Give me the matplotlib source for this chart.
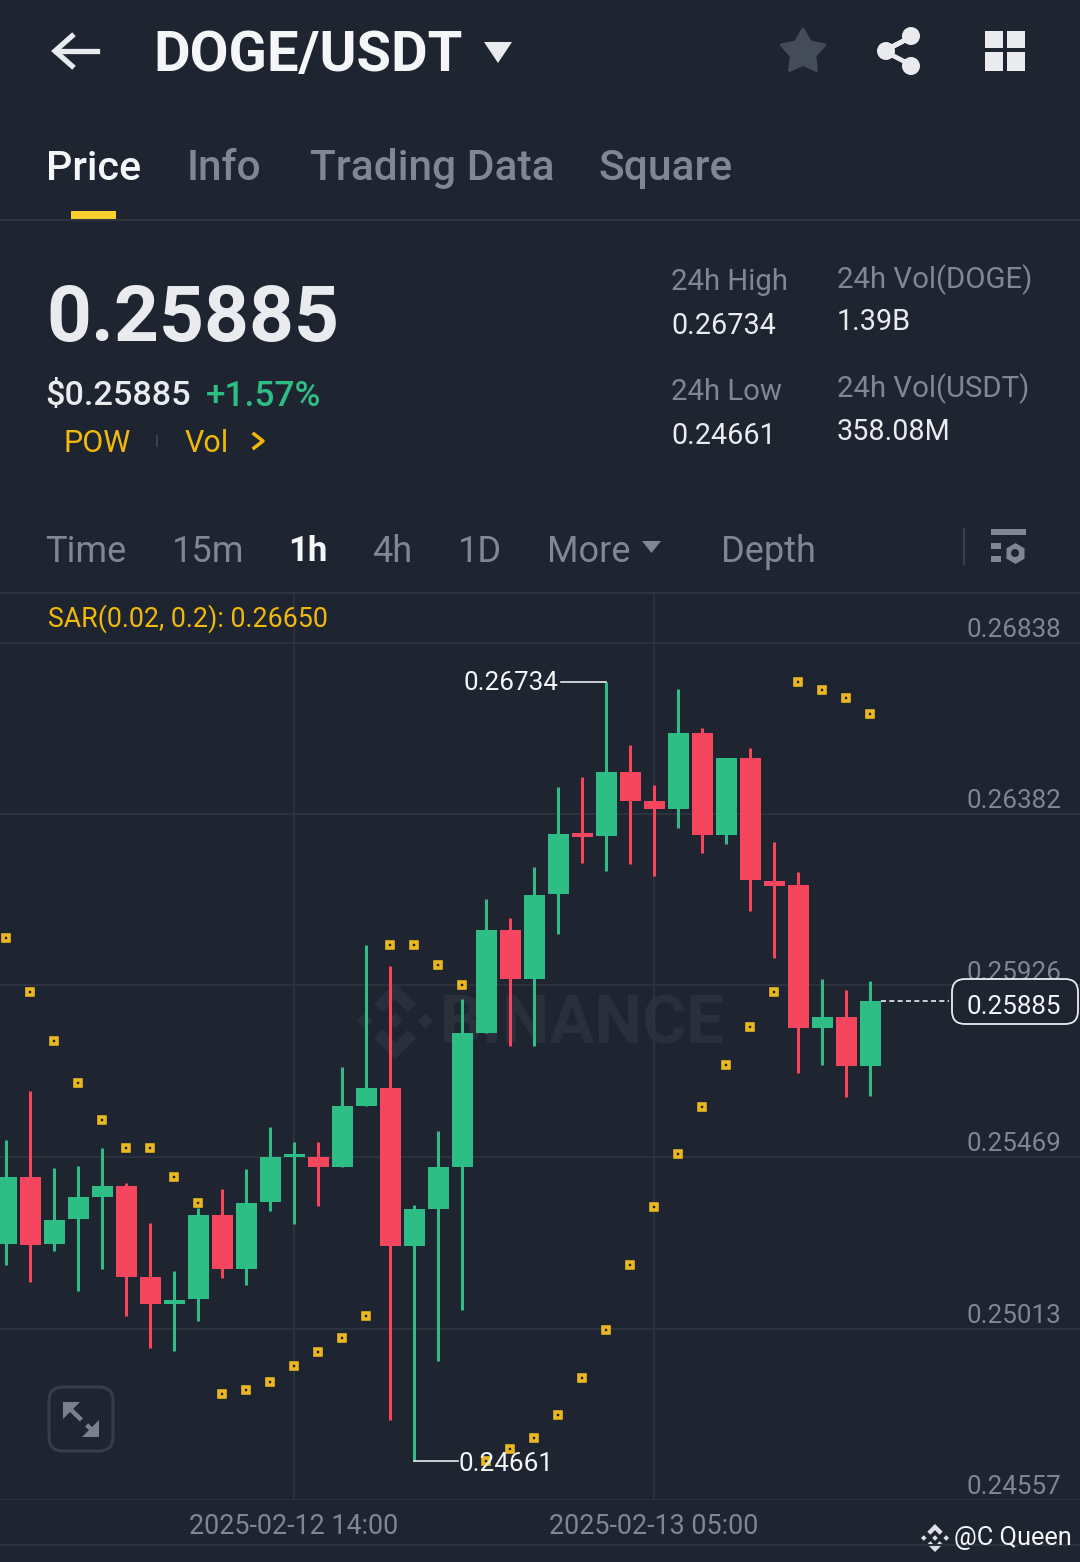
import matplotlib
matplotlib.use('Agg')
import matplotlib.pyplot as plt
import numpy as np
from matplotlib.patches import Polygon, Rectangle, Circle, FancyBboxPatch

plt.rcParams['font.family'] = ['Roboto', 'DejaVu Sans']

# candles
opens = [.25238, .25415, .25238, .25305, .25364, .25392, .25150, .25078, .25092, .25315,
         .25172, .25350, .25470, .25470, .25443, .25605, .25654, .25234, .25330, .25443,
         .25799, .26073, .25943, .26169, .26332, .26324, .26494, .26417, .26396, .26598,
         .26326, .26531, .26205, .26193, .25814, .25843, .25712]
closes = [.25415, .25235, .25303, .25363, .25392, .25150, .25078, .25090, .25315, .25172,
          .25347, .25470, .25477, .25443, .25605, .25654, .25234, .25330, .25443, .25799,
          .26073, .25943, .26167, .26330, .26322, .26494, .26417, .26396, .26598, .26326,
          .26531, .26206, .26191, .25814, .25843, .25712, .25885]
highs = [.25515, .25645, .25440, .25446, .25493, .25400, .25295, .25166, .25334, .25384,
         .25438, .25549, .25509, .25509, .25710, .26034, .25978, .25343, .25539, .25891,
         .26156, .26106, .26241, .26455, .26480, .26734, .26566, .26459, .26715, .26611,
         .26531, .26558, .26308, .26228, .25944, .25915, .25939]
lows = [.25182, .25138, .25219, .25113, .25172, .25047, .24961, .24953, .25034, .25148,
        .25129, .25326, .25291, .25339, .25443, .25605, .24770, .24661, .24927, .25062,
        .25799, .25766, .25765, .26063, .26252, .26231, .26249, .26218, .26346, .26279,
        .26302, .26124, .25999, .25693, .25714, .25630, .25632]
sar = [.26052, .25908, .25778, .25666, .25568, .25493, .25493, .25416, .25346, .24839,
       .24850, .24872, .24913, .24952, .24988, .25047, .26034, .26034, .25979, .25927,
       .24661, .24693, .24722, .24783, .24882, .25009, .25182, .25337, .25477, .25603,
       .25714, .25816, .25908, .26733, .26712, .26691, .26648]

price_ticks = [0.26838, 0.26382, 0.25926, 0.25469, 0.25013, 0.24557]
date_ticks = [12, 27]
date_labels = ['2025-02-12 14:00', '2025-02-13 05:00']
last_price = 0.25885
high_price = 0.26734
low_price = 0.24661

tabs = ['Price', 'Info', 'Trading Data', 'Square']
periods = ['Time', '15m', '1h', '4h', '1D', 'More', 'Depth']

BG = '#1e2430'
GRID = '#2e343f'
GREY = '#7f8795'
LIGHT = '#e9ebef'
WHITE = '#f5f6f8'
GREEN = '#2ebd85'
RED = '#f6465d'
YELLOW = '#f0b90b'
WATERMARK = '#2a303b'

fig = plt.figure(figsize=(10.8, 15.62), dpi=100, facecolor=BG)


def pixel_axes(z):
    a = fig.add_axes([0, 0, 1, 1], facecolor='none')
    a.set_xlim(0, 1080)
    a.set_ylim(1562, 0)
    a.axis('off')
    a.set_zorder(z)
    return a


def binance_logo(a, cx, cy, r, color):
    # centre + side diamonds and the two chevrons
    d = r * 0.2
    for ox in [0, -r * 0.8, r * 0.8]:
        a.add_patch(Polygon([(cx + ox - d, cy), (cx + ox, cy - d), (cx + ox + d, cy), (cx + ox, cy + d)],
                            color=color, lw=0))
    for sg in [-1, 1]:
        a.add_patch(Polygon([(cx, cy + sg * r), (cx + r * 0.55, cy + sg * r * 0.45),
                             (cx + r * 0.33, cy + sg * r * 0.23), (cx, cy + sg * r * 0.56),
                             (cx - r * 0.33, cy + sg * r * 0.23), (cx - r * 0.55, cy + sg * r * 0.45)],
                            color=color, lw=0))


# watermark goes under the candles
wm = pixel_axes(0)
binance_logo(wm, 395, 1021, 38, WATERMARK)
wm.text(440, 1026, 'BINANCE', color=WATERMARK, fontsize=48.5, fontweight='bold', va='center')

# chart area, py 593 to 1500
ax = fig.add_axes([0, 62 / 1562, 1, 907 / 1562], facecolor='none')
ax.set_zorder(1)
ax.set_xlim(-0.25, 44.75)
ax.set_ylim(0.24557, 0.26970)
for s in ax.spines.values():
    s.set_visible(False)
ax.set_yticks(price_ticks)
ax.set_yticklabels([])
ax.set_xticks(date_ticks)
ax.set_xticklabels(date_labels, color=GREY, fontsize=19.4)
ax.tick_params(length=0, pad=9)
ax.grid(True, color=GRID, lw=1.3)
ax.set_axisbelow(True)

x = np.arange(len(opens))
colors = [GREEN if c >= o else RED for o, c in zip(opens, closes)]
ax.vlines(x, lows, highs, colors=colors, lw=2.2, zorder=3)
bottoms = np.minimum(opens, closes)
heights = np.abs(np.array(closes) - np.array(opens))
ax.bar(x, heights, bottom=bottoms, width=0.875, color=colors, zorder=4)

ax.plot(x, sar, ls='none', marker='s', ms=4.5, mew=2.6, mec='#eab91f', mfc='#1e2125', zorder=5)

for v in price_ticks:
    ax.text(43.96, v + 0.00002, '%.5f' % v, ha='right', va='bottom', color=GREY, fontsize=18.7)

# high / low callouts
ax.plot([23.13, 25], [high_price, high_price], color=LIGHT, lw=1.2, zorder=6)
ax.text(23.0, high_price - 0.00004, '%.5f' % high_price, ha='right', va='center', color=WHITE, fontsize=18.7, zorder=7)
ax.plot([17, 18.83], [low_price, low_price], color=LIGHT, lw=1.2, zorder=6)
ax.text(18.85, low_price - 0.00007, '%.5f' % low_price, ha='left', va='center', color=WHITE, fontsize=18.7, zorder=7)
ax.plot([36.45, 39.3], [last_price, last_price], color=LIGHT, lw=1.2, ls=(0, (3, 2)), zorder=6)

# overlay in pixel coords for the app chrome
ui = pixel_axes(2)


def label(px, py, s, color=LIGHT, size=20, weight='normal', ha='left', **kw):
    ui.text(px - 1, py + 2.5, s, color=color, fontsize=size, fontweight=weight, ha=ha, va='center', **kw)


# separators
for py in [220, 593, 1545]:
    ui.plot([0, 1080], [py, py], color=GRID, lw=1.5)

# top bar
ui.plot([72, 55, 72], [36, 51, 66], color=LIGHT, lw=3.8, solid_joinstyle='miter')
ui.plot([56, 97], [51, 51], color=LIGHT, lw=3.8)
label(154, 54, 'DOGE/USDT', WHITE, 40.5, 'bold')
ui.add_patch(Polygon([(484, 42), (512, 42), (498, 63)], color=LIGHT, lw=0))

# star, fatter than the stock marker
ang = np.deg2rad(np.arange(10) * 36 - 90)
rad = np.where(np.arange(10) % 2 == 0, 23, 12.5)
ui.add_patch(Polygon(np.column_stack([803 + rad * np.cos(ang), 52 + rad * np.sin(ang)]), fc='#454c59', ec='#454c59',
                     lw=2, joinstyle='round'))

ui.plot([884, 913, 884, 913], [51, 36, 51, 66], color=LIGHT, lw=3.4)
for cx, cy, r in [(886, 51, 9), (911, 36, 9), (911, 66, 9)]:
    ui.add_patch(Circle((cx, cy), r, color=LIGHT, lw=0))
for rx, ry, rw, rh in [(985, 31, 18, 17), (1007, 31, 18, 17), (985, 52, 18, 19), (1007, 52, 18, 19)]:
    ui.add_patch(Rectangle((rx, ry), rw, rh, color=LIGHT, lw=0))

# tabs
tab_x = [47, 188, 311, 599]
for i, t in enumerate(tabs):
    label(tab_x[i], 166, t, WHITE if i == 0 else GREY, 29.7 if i == 0 else 30.6, 'medium')
ui.add_patch(Rectangle((71, 211), 45, 8, color='#f8d12f', lw=0))

# price block
label(47, 318, '0.25885', LIGHT, 56.5, 'bold')
label(46, 394, '$0.25885', LIGHT, 24.7, 'medium')
label(207, 394, '+1.57%', GREEN, 25.4, 'medium')
label(64, 441, 'POW', YELLOW, 22)
ui.plot([157, 157], [436, 446], color='#3a404c', lw=1.5)
label(186, 441, 'Vol', YELLOW, 22)
ui.plot([254, 263, 254], [434, 441, 448], color=YELLOW, lw=2.5)

label(672, 280, '24h High', GREY, 21.2)
label(672, 323, '0.26734', LIGHT, 20.7)
label(672, 390, '24h Low', GREY, 21.2)
label(672, 433, '0.24661', LIGHT, 20.7)
label(838, 277, '24h Vol(DOGE)', GREY, 21.2)
label(838, 319, '1.39B', LIGHT, 20.7)
label(838, 386, '24h Vol(USDT)', GREY, 21.2)
label(838, 429, '358.08M', LIGHT, 20.7)

# period row
period_x = [46, 173, 289, 373, 459, 548, 722]
for i, t in enumerate(periods):
    on = t == '1h'
    label(period_x[i], 549, t, WHITE if on else GREY, 25 if on else 26, 'bold' if on else 'normal')
ui.add_patch(Polygon([(642, 541), (661, 541), (651.5, 553)], color=GREY, lw=0))
ui.plot([964, 964], [529, 564], color='#3a404c', lw=1.5)
ui.add_patch(Rectangle((991, 529), 35, 6, color=GREY, lw=0))
ui.add_patch(Rectangle((991, 543), 10, 6, color=GREY, lw=0))
ui.add_patch(Rectangle((991, 556), 10, 6, color=GREY, lw=0))
ui.plot([1015], [553], marker='h', ms=15, color=GREY, mew=0)
ui.add_patch(Circle((1015, 553), 4, color=BG, lw=0, zorder=3))

label(49, 616, 'SAR(0.02, 0.2): 0.26650', YELLOW, 19.3)

# last price box
ui.add_patch(FancyBboxPatch((952, 979), 126, 45, boxstyle='round,pad=0,rounding_size=13', fc=BG, ec=LIGHT, lw=1.3,
                            zorder=4))
label(1062, 1005, '0.25885', WHITE, 18.7, ha='right', zorder=5)

# expand button
ui.add_patch(FancyBboxPatch((49, 1387), 64, 64, boxstyle='round,pad=0,rounding_size=14', fc='none', ec='#363c48', lw=2.2))
ui.add_patch(Polygon([(63, 1402), (80, 1402), (63, 1419)], color='#7a818e', lw=0))
ui.add_patch(Polygon([(99, 1437), (82, 1437), (99, 1420)], color='#7a818e', lw=0))
ui.plot([68, 94], [1407, 1432], color='#7a818e', lw=3.2, ls=(0, (4.2, 1.6)))

# credit
binance_logo(ui, 935, 1538, 14, '#dfe1e6')
label(955, 1536, '@C Queen', WHITE, 18.3)

fig.savefig('out.png', dpi=100, facecolor=BG)
